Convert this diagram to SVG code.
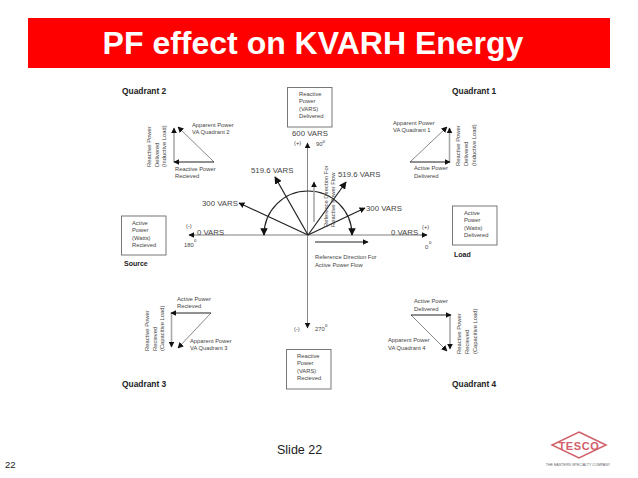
<svg xmlns="http://www.w3.org/2000/svg" width="638" height="478" viewBox="0 0 638 478">
<style>
text{font-family:"Liberation Sans",Arial,sans-serif;fill:#333}
.s{font-size:5.8px;fill:#444}
.v{font-size:7.8px;fill:#444}
.o{font-size:4.5px;fill:#444}
.q{font-size:8.4px;font-weight:bold;fill:#222}
.b{fill:#fff;stroke:#777;stroke-width:1}
.g{stroke:#888;stroke-width:1;fill:none}
.gt{stroke:#aaa;stroke-width:1.6;fill:none}
.k{stroke:#222;stroke-width:1.2;fill:none}
</style>
<defs>
<marker id="a" viewBox="0 0 10 10" refX="9" refY="5" markerWidth="6" markerHeight="6" markerUnits="userSpaceOnUse" orient="auto"><path d="M0 0L10 5L0 10z" fill="#111"/></marker>
<marker id="l" viewBox="0 0 10 10" refX="9" refY="5" markerWidth="7.500" markerHeight="7.500" markerUnits="userSpaceOnUse" orient="auto"><path d="M0 0L10 5L0 10z" fill="#111"/></marker>
</defs>
<rect width="638" height="478" fill="#fff"/>
<g id="title"><rect x="28" y="18" width="582" height="50" fill="#f00"/>
<text x="313" y="54" text-anchor="middle" font-size="32" font-weight="bold" style="fill:#fff">PF effect on KVARH Energy</text></g>
<g id="connectors">
<path class="g" d="M307.500 143V328"/>
<path class="gt" d="M189 235H427"/>
<path class="k" d="M264 235A44 44 0 0 1 352 235"/>
<path class="k" d="M264 229V235" marker-end="url(#l)"/>
<path class="k" d="M352 229V235" marker-end="url(#l)"/>
<path class="k" d="M308 235L275 177" marker-end="url(#l)"/>
<path class="k" d="M308 235L239 203" marker-end="url(#a)"/>
<path class="k" d="M308 235L346 182" marker-end="url(#l)"/>
<path class="k" d="M308 235L365 208" marker-end="url(#a)"/>
<path class="gt" d="M314 222V182" marker-end="url(#a)"/>
<path class="k" d="M315 242H368" marker-end="url(#a)"/>
<path class="g" d="M307.500 150V143" marker-end="url(#a)"/>
<path class="g" d="M307.500 320V328" marker-end="url(#a)"/>
<path class="g" d="M195 235H189" marker-end="url(#a)"/>
<path class="g" d="M420 235H427" marker-end="url(#a)"/>
<g id="tri2"><path class="g" d="M214 162L178 127" marker-end="url(#a)"/><path class="gt" d="M174 162V128" marker-end="url(#a)"/><path class="k" d="M214 162H174" marker-end="url(#a)"/></g>
<g id="tri1"><path class="g" d="M410 162L447 127" marker-end="url(#a)"/><path class="gt" d="M449.500 162V128" marker-end="url(#a)"/><path class="k" d="M410 162H450" marker-end="url(#a)"/></g>
<g id="tri3"><path class="g" d="M211 313L178 348" marker-end="url(#a)"/><path class="gt" d="M171.500 313V347" marker-end="url(#a)"/><path class="k" d="M211 313H171" marker-end="url(#a)"/></g>
<g id="tri4"><path class="g" d="M411 315L447 351" marker-end="url(#a)"/><path class="gt" d="M450 315V349" marker-end="url(#a)"/><path class="k" d="M411 315H451" marker-end="url(#a)"/></g>
</g>
<g id="node-top"><rect class="b" x="287.500" y="87.500" width="44.500" height="39.500"/>
<text class="s" x="299" y="96">Reactive</text><text class="s" x="299" y="103">Power</text><text class="s" x="299" y="110.500">(VARS)</text><text class="s" x="299" y="118">Delivered</text></g>
<g id="node-bottom"><rect class="b" x="286.500" y="349.500" width="44.500" height="39.500"/>
<text class="s" x="297" y="358">Reactive</text><text class="s" x="297" y="365">Power</text><text class="s" x="297" y="373">(VARS)</text><text class="s" x="297" y="380">Recieved</text></g>
<g id="node-left"><rect class="b" x="121.500" y="216" width="44.500" height="39"/>
<text class="s" x="132" y="225">Active</text><text class="s" x="132" y="232">Power</text><text class="s" x="132" y="239.500">(Watts)</text><text class="s" x="132" y="247">Recieved</text></g>
<g id="node-right"><rect class="b" x="452.500" y="206" width="44.500" height="39"/>
<text class="s" x="464" y="214.500">Active</text><text class="s" x="464" y="222">Power</text><text class="s" x="464" y="229.500">(Watts)</text><text class="s" x="464" y="237">Delivered</text></g>
<g id="labels">
<text class="q" x="122" y="94">Quadrant 2</text>
<text class="q" x="452" y="94">Quadrant 1</text>
<text class="q" x="122" y="387">Quadrant 3</text>
<text class="q" x="452" y="387">Quadrant 4</text>
<text class="q" x="124" y="266" style="font-size:7px">Source</text>
<text class="q" x="454" y="257" style="font-size:7px">Load</text>
<text class="v" x="292" y="136">600 VARS</text>
<text class="s" x="294" y="145">(+)</text><text class="s" x="316" y="146">90</text><text class="o" x="322.500" y="143">o</text>
<text class="v" x="251" y="173">519.6 VARS</text>
<text class="v" x="338" y="177">519.6 VARS</text>
<text class="v" x="202" y="206">300 VARS</text>
<text class="v" x="366" y="211">300 VARS</text>
<text class="v" x="197" y="235">0 VARS</text>
<text class="v" x="391" y="235">0 VARS</text>
<text class="s" x="186" y="228">(-)</text><text class="s" x="422" y="229">(+)</text>
<text class="s" x="184" y="247">180</text><text class="o" x="194" y="242">o</text>
<text class="s" x="425" y="249">0</text><text class="o" x="429" y="244">o</text>
<text class="s" x="294" y="331">(-)</text><text class="s" x="315" y="331">270</text><text class="o" x="325" y="327">o</text>
<text class="s" x="315" y="259">Reference Direction For</text><text class="s" x="315" y="266.500">Active Power Flow</text>
<text class="s" transform="translate(328 227) rotate(-90)">Reference Direction For</text>
<text class="s" transform="translate(335 227) rotate(-90)">Reactive Power Flow</text>
<text class="s" x="192" y="127">Apparent Power</text><text class="s" x="192" y="134">VA Quadrant 2</text>
<text class="s" x="175" y="171">Reactive Power</text><text class="s" x="175" y="178">Recieved</text>
<g transform="translate(151 167) rotate(-90)"><text class="s" x="0" y="0">Reactive Power</text><text class="s" x="0" y="7.500">Delivered</text><text class="s" x="0" y="15">(Inductive Load)</text></g>
<text class="s" x="393" y="125">Apparent Power</text><text class="s" x="393" y="132">VA Quadrant 1</text>
<text class="s" x="414" y="170">Active Power</text><text class="s" x="414" y="177.500">Delivered</text>
<g transform="translate(460 166) rotate(-90)"><text class="s" x="0" y="0">Reactive Power</text><text class="s" x="0" y="8">Delivered</text><text class="s" x="0" y="16">(Inductive Load)</text></g>
<text class="s" x="177" y="301">Active Power</text><text class="s" x="177" y="308">Recieved</text>
<text class="s" x="190" y="343">Apparent Power</text><text class="s" x="190" y="350">VA Quadrant 3</text>
<g transform="translate(149 351) rotate(-90)"><text class="s" x="0" y="0">Reactive Power</text><text class="s" x="0" y="7.500">Recieved</text><text class="s" x="0" y="15">(Capacitive Load)</text></g>
<text class="s" x="414" y="303">Active Power</text><text class="s" x="414" y="311">Delivered</text>
<text class="s" x="388" y="342">Apparent Power</text><text class="s" x="388" y="350">VA Quadrant 4</text>
<g transform="translate(461 354) rotate(-90)"><text class="s" x="0" y="0">Reactive Power</text><text class="s" x="0" y="8">Recieved</text><text class="s" x="0" y="16">(Capacitive Load)</text></g>
<text x="277" y="454" font-size="12.500" style="fill:#222">Slide 22</text>
<text x="5" y="468" font-size="9.500" style="fill:#222">22</text>
</g>
<g id="logo">
<path d="M579 432L606 445L579 458L552 445Z" fill="none" stroke="#d0606a" stroke-width="1.500"/>
<text x="579" y="449.500" text-anchor="middle" font-size="11" font-weight="bold" letter-spacing=".6" style="fill:#d0606a">TESCO</text>
<text x="578" y="465.500" text-anchor="middle" font-size="3.600" style="fill:#666">THE EASTERN SPECIALTY COMPANY</text>
</g>
</svg>
